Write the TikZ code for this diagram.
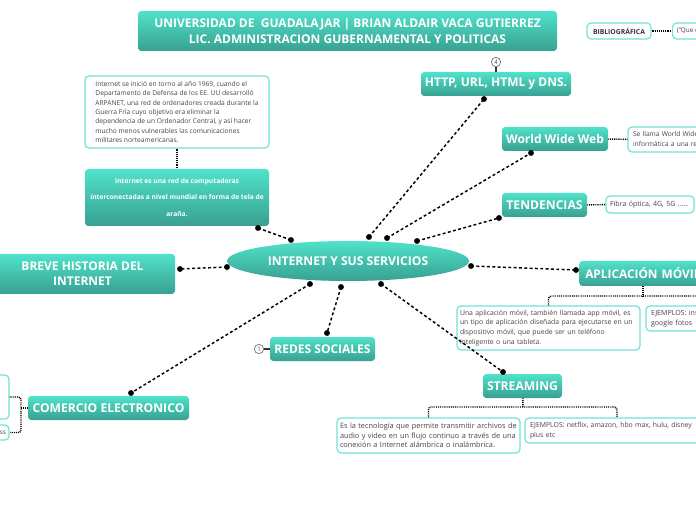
\documentclass[tikz,border=0pt]{standalone}
\usepackage{fontspec}
\setmainfont{Open Sans}
\usetikzlibrary{shapes.geometric}
\definecolor{ttop}{RGB}{80,226,202}
\definecolor{tbot}{RGB}{56,160,145}
\definecolor{bord}{RGB}{112,228,214}
\definecolor{txt}{RGB}{70,70,70}
\begin{document}
\begin{tikzpicture}[x=0.75pt,y=-0.75pt,
 sz/.style 2 args={minimum width=#1*0.75pt, minimum height=#2*0.75pt},
 tbox/.style={rounded corners=2.5pt, top color=ttop, bottom color=tbot, draw=none, text=white, font=\bfseries, inner sep=0pt, align=center},
 wbox/.style={rounded corners=3pt, draw=bord, line width=0.9pt, fill=white, text=txt, inner sep=0pt},
 conn/.style={line width=1.1pt, dash pattern=on 2.2pt off 1.8pt},
 sub/.style={line width=1.1pt, dash pattern=on 0.7pt off 0.7pt, rounded corners=2pt},
 enddot/.style={fill=black},
 numc/.style={circle, draw=gray, line width=0.6pt, fill=white, inner sep=0pt, minimum size=7pt, font=\fontsize{4.6}{5}\selectfont, text=black!70}]
\useasboundingbox (0,0) rectangle (696,520);
\clip (0,0) rectangle (696,520);
\fill[white] (0,0) rectangle (696,520);

% title
\node[tbox, sz={419}{40}, font=\bfseries\fontsize{9.0}{11.6}\selectfont] (title) at (347.5,31)
 {UNIVERSIDAD DE\ \ GUADALAJAR | BRIAN ALDAIR VACA GUTIERREZ\\LIC. ADMINISTRACION GUBERNAMENTAL Y POLITICAS};

% bibliografica
\node[wbox, sz={64}{16}, font=\bfseries\fontsize{5.1}{6}\selectfont, text=black!80] (bib) at (619,31) {BIBLIOGRÁFICA};
\node[wbox, sz={90}{16}, anchor=west, align=left, inner xsep=3pt, font=\fontsize{4.8}{5}\selectfont] (bib2) at (672,31) {(“Que es Internet”)\hspace*{20pt}};
\draw[sub] (bib) -- (bib2);

% historia text
\node[wbox, sz={184}{72}, align=left, font=\fontsize{5.0}{7}\selectfont] (hist) at (177,112)
 {Internet se inició en torno al año 1969, cuando el\\
 Departamento de Defensa de los EE. UU desarrolló\\
 ARPANET, una red de ordenadores creada durante la\\
 Guerra Fría cuyo objetivo era eliminar la\\
 dependencia de un Ordenador Central, y así hacer\\
 mucho menos vulnerables las comunicaciones\\
 militares norteamericanas.\hspace*{60pt}};
\node[tbox, sz={184}{57}, font=\bfseries\fontsize{5.0}{12.4}\selectfont] (red) at (177,197.5)
 {Internet es una red de computadoras\\interconectadas a nivel mundial en forma de tela de\\araña.};
\draw[sub] (hist) -- (red);

% center
\node[ellipse, top color=ttop, bottom color=tbot, sz={242}{40}, inner sep=0pt, text=white, font=\bfseries\fontsize{9.1}{10}\selectfont] (center) at (348,261) {INTERNET Y SUS SERVICIOS};

% HTTP
\node[tbox, sz={150}{24}, font=\bfseries\fontsize{9.0}{11}\selectfont] (http) at (496,84) {HTTP, URL, HTML y DNS.};
\node[numc] (n4) at (496,62) {4};
\draw[line width=0.8pt, black!80] (n4) -- (http);

% WWW
\node[tbox, sz={106}{24}, font=\bfseries\fontsize{9.0}{11}\selectfont] (www) at (555,139) {World Wide Web};
\node[wbox, sz={132}{25}, align=left, text width=122*0.75pt, font=\fontsize{5.0}{7.5}\selectfont] (wwwd) at (694,139.5)
 {Se llama World Wide Web\\informática a una red};
\draw[sub] (www) -- (wwwd);

% Tendencias
\node[tbox, sz={85}{24}, font=\bfseries\fontsize{9.1}{11}\selectfont] (tend) at (544.5,205) {TENDENCIAS};
\node[wbox, sz={88}{17}, align=left, text width=80*0.75pt, font=\fontsize{5.3}{6}\selectfont] (tendd) at (650,204.5) {Fibra óptica, 4G, 5G ……};
\draw[sub] (tend) -- (tendd);

% Breve historia
\node[tbox, sz={185}{40}, font=\bfseries\fontsize{9.0}{11.4}\selectfont] (breve) at (82.5,274) {BREVE HISTORIA DEL\\INTERNET};

% Aplicacion movil
\node[tbox, sz={181}{25}, anchor=west, align=left, text width=170*0.75pt, inner xsep=4.5pt, font=\bfseries\fontsize{8.9}{11}\selectfont] (aplic) at (579,273.5) {APLICACIÓN MÓVIL};
\node[wbox, sz={183}{44}, align=left, text width=177*0.75pt, font=\fontsize{5.15}{7.3}\selectfont] (apd1) at (548.5,328)
 {Una aplicación móvil, también llamada app móvil, es\\
 un tipo de aplicación diseñada para ejecutarse en un\\
 dispositivo móvil, que puede ser un teléfono\\
 inteligente o una tableta.};
\node[wbox, sz={114}{25}, align=left, text width=104*0.75pt, font=\fontsize{5.3}{7.3}\selectfont] (apd2) at (703,318.5)
 {EJEMPLOS: instagram\\google fotos};
\coordinate (apj) at (643,296);
\draw[sub] (aplic.south -| apj) -- (apj);
\draw[sub] (apd1.north) |- (apj) -| (apd2.north);

% Redes sociales
\node[tbox, sz={105}{24}, font=\bfseries\fontsize{9.0}{11}\selectfont] (redes) at (322.5,349) {REDES SOCIALES};
\node[numc] (n1) at (259,349) {1};
\draw[line width=0.8pt, black!80] (n1) -- (redes);

% Streaming
\node[tbox, sz={79}{24}, font=\bfseries\fontsize{9.1}{11}\selectfont] (stream) at (522.5,386) {STREAMING};
\node[wbox, sz={183}{35}, align=left, text width=177*0.75pt, font=\fontsize{5.5}{7.3}\selectfont] (std1) at (428.5,435.5)
 {Es la tecnología que permite transmitir archivos de\\
 audio y video en un flujo continuo a través de una\\
 conexión a Internet alámbrica o inalámbrica.};
\node[wbox, sz={184}{25}, align=left, text width=174*0.75pt, font=\fontsize{5.15}{7.3}\selectfont] (std2) at (617,430.5)
 {EJEMPLOS: netflix, amazon, hbo max, hulu, disney\\plus etc};
\coordinate (stj) at (523,407);
\draw[sub] (stream) -- (stj);
\draw[sub] (std1.north) |- (stj) -| (std2.north);

% Comercio electronico
\node[tbox, sz={161}{24}, font=\bfseries\fontsize{9.1}{11}\selectfont] (comercio) at (108.5,408) {COMERCIO ELECTRONICO};
\node[wbox, sz={109}{44}] (cd1) at (-45.5,397) {};
\node[wbox, sz={69}{15}, align=right, text width=63*0.75pt, font=\fontsize{4.8}{6}\selectfont] (cd2) at (-25.5,432.5) {e-business};
\coordinate (cmj) at (21,408);
\draw[sub] (comercio.west) -- (cmj);
\draw[sub] (cd1.east) -| (cmj) |- (cd2.east);

% main connectors
\coordinate (a1) at (369,237); \coordinate (b1) at (484,99);
\coordinate (a2) at (387,238); \coordinate (b2) at (531,153);
\coordinate (a3) at (417,241); \coordinate (b3) at (499,218);
\coordinate (a4) at (471,266); \coordinate (b4) at (576,270);
\coordinate (a5) at (381,284); \coordinate (b5) at (503,372);
\coordinate (a6) at (341,287); \coordinate (b6) at (327,333);
\coordinate (a7) at (310,284); \coordinate (b7) at (131,393);
\coordinate (a8) at (227,267); \coordinate (b8) at (180,269);
\coordinate (a9) at (291,240); \coordinate (b9) at (258,228);
\foreach \i in {1,...,9}{
  \draw[conn] (a\i) -- (b\i);
  \fill[enddot] (a\i) circle (2.2pt);
  \fill[enddot] (b\i) circle (2.2pt);
}
\end{tikzpicture}
\end{document}
